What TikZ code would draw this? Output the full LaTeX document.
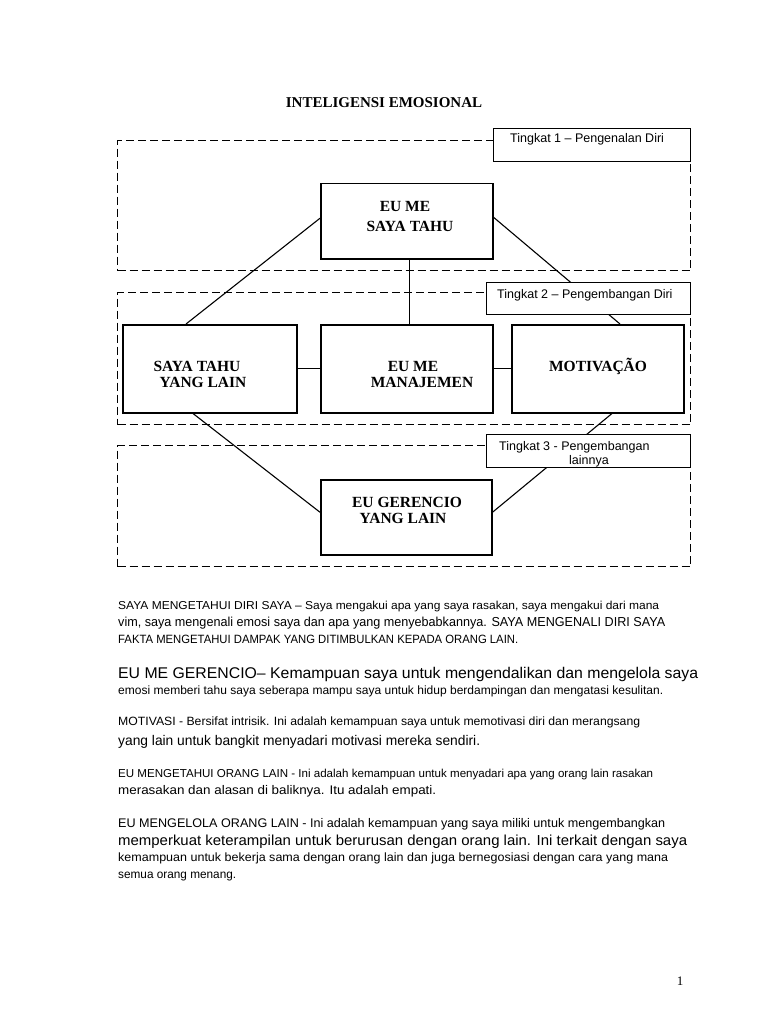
\documentclass[tikz,border=0pt]{standalone}
\usepackage{fontspec}
\setmainfont{Liberation Serif}
\newfontfamily\arialf{Liberation Sans}
\usepackage{graphicx}
\newcommand\fitw[2]{\resizebox{#1pt}{\height}{#2}}
\begin{document}
\begin{tikzpicture}[x=1pt,y=-1pt,
  dashbox/.style={draw, line width=1.4pt, dash pattern=on 8pt off 4pt, anchor=north west, inner sep=0pt},
  tagbox/.style={draw, line width=1.3pt, fill=white, anchor=north west, inner sep=0pt},
  mainbox/.style={draw, line width=1.5pt, fill=white, anchor=north west, inner sep=0pt},
  link/.style={draw, line width=1.1pt},
  boxtext/.style={font=\fontsize{15.5}{18}\selectfont\bfseries, inner sep=0pt, anchor=base},
  tagtext/.style={font=\arialf\fontsize{12.5}{14}\selectfont, inner sep=0pt, anchor=base west},
  para/.style={inner sep=0pt, anchor=base west}]
\useasboundingbox[fill=white] (0,0) rectangle (768,1024);

% title
\node[inner sep=0pt, anchor=base, font=\fontsize{15}{18}\selectfont\bfseries] (title) at (384,108) {INTELIGENSI EMOSIONAL};

% level regions
\node[dashbox, minimum width=573pt, minimum height=130pt] (lvl1) at (117,140) {};
\node[dashbox, minimum width=573pt, minimum height=132pt] (lvl2) at (117,292) {};
\node[dashbox, minimum width=573pt, minimum height=121pt] (lvl3) at (117,445) {};

% main boxes
\node[mainbox, minimum width=172pt, minimum height=75pt] (eume) at (320,183) {};
\node[mainbox, minimum width=174pt, minimum height=88pt] (sayatahu) at (122,324) {};
\node[mainbox, minimum width=172pt, minimum height=88pt] (manaj) at (320,324) {};
\node[mainbox, minimum width=172pt, minimum height=88pt] (motiv) at (511,324) {};
\node[mainbox, minimum width=171pt, minimum height=75pt] (gerencio) at (320,479) {};

% connectors
\draw[link] ([yshift=3pt]eume.west) -- ([xshift=64pt]sayatahu.north west);
\draw[link] ([yshift=4pt]eume.east) -- ([xshift=109pt]motiv.north west);
\draw[link] ([xshift=3pt]eume.south) -- ([xshift=3pt]manaj.north);
\draw[link] (sayatahu.east) -- (manaj.west);
\draw[link] (manaj.east) -- (motiv.west);
\draw[link] ([xshift=71pt]sayatahu.south west) -- ([yshift=5pt]gerencio.west);
\draw[link] ([xshift=101pt]motiv.south west) -- ([yshift=5pt]gerencio.east);

% level tags
\node[tagbox, minimum width=197pt, minimum height=33pt] (tag1) at (493,128) {};
\node[tagbox, minimum width=204pt, minimum height=32pt] (tag2) at (486,282) {};
\node[tagbox, minimum width=204pt, minimum height=33pt] (tag3) at (486,434) {};
\node[tagtext] (tag1t) at (510,143) {Tingkat 1 – Pengenalan Diri};
\node[tagtext] (tag2t) at (497,298) {Tingkat 2 – Pengembangan Diri};
\node[tagtext] (tag3t) at (499,450) {Tingkat 3 - Pengembangan};
\node[tagtext, anchor=base] (tag3u) at (589,464) {lainnya};

% box texts
\node[boxtext] (eumea) at (405,212) {EU ME};
\node[boxtext] (eumeb) at (410,232) {SAYA TAHU};
\node[boxtext] (sta) at (197,371) {SAYA TAHU};
\node[boxtext] (stb) at (203,387) {YANG LAIN};
\node[boxtext] (mja) at (413,371) {EU ME};
\node[boxtext] (mjb) at (422,387) {MANAJEMEN};
\node[boxtext] (moa) at (598,371) {MOTIVAÇÃO};
\node[boxtext] (gea) at (407,507) {EU GERENCIO};
\node[boxtext] (geb) at (403,523) {YANG LAIN};

% explanatory text
\node[para, font=\arialf\fontsize{11.5}{13}\selectfont] (l1) at (118,609) {\fitw{541}{SAYA MENGETAHUI DIRI SAYA – Saya mengakui apa yang saya rasakan, saya mengakui dari mana}};
\node[para, font=\arialf\fontsize{13}{15}\selectfont] (l2) at (118,626) {\fitw{547}{vim, saya mengenali emosi saya dan apa yang menyebabkannya. SAYA MENGENALI DIRI SAYA}};
\node[para, font=\arialf\fontsize{12}{14}\selectfont] (l3) at (118,643) {\fitw{400}{FAKTA MENGETAHUI DAMPAK YANG DITIMBULKAN KEPADA ORANG LAIN.}};
\node[para, font=\arialf\fontsize{15.5}{18}\selectfont] (l4) at (118,678) {\fitw{580}{EU ME GERENCIO– Kemampuan saya untuk mengendalikan dan mengelola saya}};
\node[para, font=\arialf\fontsize{12}{14}\selectfont] (l5) at (118,694) {\fitw{545}{emosi memberi tahu saya seberapa mampu saya untuk hidup berdampingan dan mengatasi kesulitan.}};
\node[para, font=\arialf\fontsize{12}{14}\selectfont] (l6) at (118,725) {\fitw{522}{MOTIVASI - Bersifat intrisik. Ini adalah kemampuan saya untuk memotivasi diri dan merangsang}};
\node[para, font=\arialf\fontsize{14}{16}\selectfont] (l7) at (118,745) {\fitw{362}{yang lain untuk bangkit menyadari motivasi mereka sendiri.}};
\node[para, font=\arialf\fontsize{11.5}{13}\selectfont] (l8) at (118,777) {\fitw{535}{EU MENGETAHUI ORANG LAIN - Ini adalah kemampuan untuk menyadari apa yang orang lain rasakan}};
\node[para, font=\arialf\fontsize{12.5}{14}\selectfont] (l9) at (118,794) {\fitw{318}{merasakan dan alasan di baliknya. Itu adalah empati.}};
\node[para, font=\arialf\fontsize{12.5}{14}\selectfont] (l10) at (118,827) {\fitw{547}{EU MENGELOLA ORANG LAIN - Ini adalah kemampuan yang saya miliki untuk mengembangkan}};
\node[para, font=\arialf\fontsize{14.5}{17}\selectfont] (l11) at (118,845) {\fitw{569}{memperkuat keterampilan untuk berurusan dengan orang lain. Ini terkait dengan saya}};
\node[para, font=\arialf\fontsize{12}{14}\selectfont] (l12) at (118,861) {\fitw{550}{kemampuan untuk bekerja sama dengan orang lain dan juga bernegosiasi dengan cara yang mana}};
\node[para, font=\arialf\fontsize{12}{14}\selectfont] (l13) at (118,878) {\fitw{118}{semua orang menang.}};

% page number
\node[inner sep=0pt, anchor=base, font=\fontsize{13}{15}\selectfont] (pnum) at (680,985) {1};
\end{tikzpicture}
\end{document}
